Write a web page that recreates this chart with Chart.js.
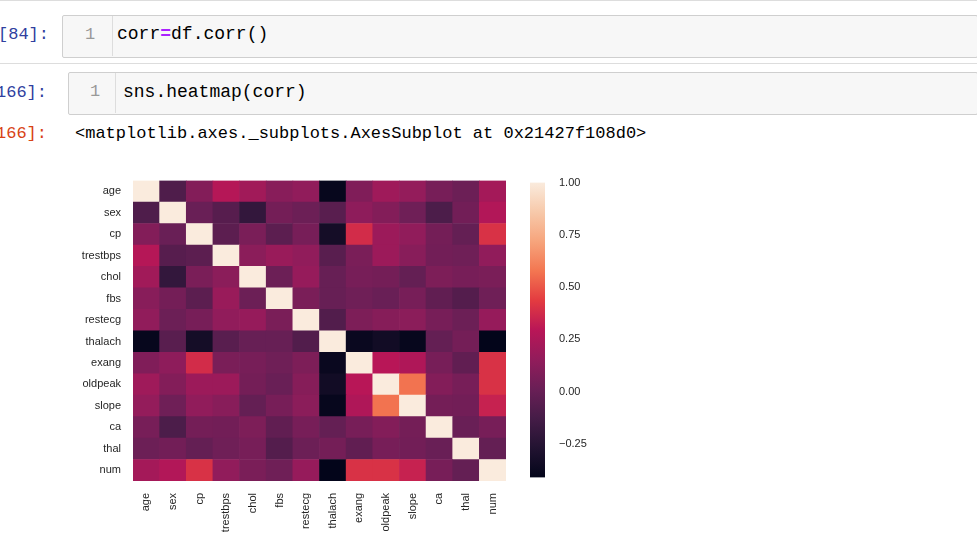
<!DOCTYPE html>
<html><head><meta charset="utf-8">
<script src="https://cdn.jsdelivr.net/npm/chart.js@4"></script>
<style>
body{margin:0;width:977px;height:549px;background:#fff;position:relative;overflow:hidden;font-family:"Liberation Mono","DejaVu Sans Mono",monospace;}
.box{position:absolute;background:#f7f7f7;border:1px solid #cfcfcf;border-radius:2px;}
.ln{position:absolute;color:#999;font-size:17px;}
.code{position:absolute;font-size:18px;color:#000;}
.p{position:absolute;font-size:17px;}
</style></head><body>
<div style="position:absolute;left:0;top:0;width:977px;height:1px;background:#ddd"></div>
<div class="p" style="left:-2px;top:25px;color:#303f9f">[84]:</div>
<div class="box" style="left:62px;top:15px;width:914px;height:41px"></div>
<div style="position:absolute;left:112px;top:16px;width:1px;height:40px;background:#ddd"></div>
<div class="ln" style="left:85px;top:25px">1</div>
<div class="code" style="left:117px;top:24px">corr<span style="color:#aa22ff;font-weight:bold">=</span>df.corr()</div>
<div style="position:absolute;left:0;top:63px;width:977px;height:1px;background:#ddd"></div>
<div class="p" style="left:-4px;top:83px;color:#303f9f">166]:</div>
<div class="box" style="left:68px;top:72px;width:908px;height:41px"></div>
<div style="position:absolute;left:115px;top:73px;width:1px;height:40px;background:#ddd"></div>
<div class="ln" style="left:90px;top:82px">1</div>
<div class="code" style="left:123px;top:82px">sns.heatmap(corr)</div>
<div class="p" style="left:-4px;top:124px;color:#d84315">166]:</div>
<div class="code" style="left:75px;top:124px;font-size:17px">&lt;matplotlib.axes._subplots.AxesSubplot at 0x21427f108d0&gt;</div>
<div style="position:absolute;left:60px;top:170px;width:460px;height:380px"><canvas id="c"></canvas></div>
<div style="position:absolute;left:520px;top:170px;width:80px;height:320px"><canvas id="cb"></canvas></div>
<script>
const labels=["age","sex","cp","trestbps","chol","fbs","restecg","thalach","exang","oldpeak","slope","ca","thal","num"];
const age=[1,-0.09,0.10,0.28,0.21,0.12,0.15,-0.39,0.09,0.20,0.16,0.06,0.02,0.22];
const sex=[-0.09,1,0.01,-0.06,-0.20,0.05,0.02,-0.05,0.14,0.10,0.03,-0.10,0.04,0.27];
const cp=[0.10,0.01,1,-0.04,0.07,-0.04,0.06,-0.33,0.38,0.19,0.15,0.05,-0.01,0.40];
const trestbps=[0.28,-0.06,-0.04,1,0.13,0.18,0.15,-0.05,0.07,0.19,0.12,0.04,0.03,0.15];
const chol=[0.21,-0.20,0.07,0.13,1,0.02,0.17,0.00,0.06,0.05,-0.01,0.08,0.06,0.07];
const fbs=[0.12,0.05,-0.04,0.18,0.02,1,0.07,0.00,0.03,0.01,0.06,-0.02,-0.07,0.03];
const restecg=[0.15,0.02,0.06,0.15,0.17,0.07,1,-0.08,0.08,0.11,0.13,0.06,0.02,0.17];
const thalach=[-0.39,-0.05,-0.33,-0.05,0.00,0.00,-0.08,1,-0.38,-0.34,-0.39,-0.01,0.05,-0.41];
const exang=[0.09,0.14,0.38,0.07,0.06,0.03,0.08,-0.38,1,0.29,0.26,0.06,-0.02,0.40];
const oldpeak=[0.20,0.10,0.19,0.19,0.05,0.01,0.11,-0.34,0.29,1,0.57,0.10,0.06,0.40];
const slope=[0.16,0.03,0.15,0.12,-0.01,0.06,0.13,-0.39,0.26,0.57,1,0.05,0.04,0.34];
const ca=[0.06,-0.10,0.05,0.04,0.08,-0.02,0.06,-0.01,0.06,0.10,0.05,1,0.01,0.06];
const thal=[0.02,0.04,-0.01,0.03,0.06,-0.07,0.02,0.05,-0.02,0.06,0.04,0.01,1,-0.01];
const num=[0.22,0.27,0.40,0.15,0.07,0.03,0.17,-0.41,0.40,0.40,0.34,0.06,-0.01,1];
const rows=[age,sex,cp,trestbps,chol,fbs,restecg,thalach,exang,oldpeak,slope,ca,thal,num];
const cbTicks=[-0.25,0,0.25,0.5,0.75,1.0];
const vmin=-0.41, vmax=1.0;
const stops=[[0,"#03051a"],[0.1,"#221331"],[0.2,"#451c47"],[0.3,"#6a1f56"],[0.4,"#921c5b"],[0.5,"#b91657"],[0.6,"#e33b40"],[0.7,"#f37651"],[0.8,"#f6a47c"],[0.9,"#f7c9aa"],[1,"#faebdd"]];
function hx(h){return [1,3,5].map(i=>parseInt(h.substr(i,2),16));}
function cmap(v){let t=Math.max(0,Math.min(1,(v-vmin)/(vmax-vmin)));
 for(let i=1;i<stops.length;i++){if(t<=stops[i][0]){const a=hx(stops[i-1][1]),b=hx(stops[i][1]);const f=(t-stops[i-1][0])/(stops[i][0]-stops[i-1][0]);
 return "rgb("+a.map((x,k)=>Math.round(x+(b[k]-x)*f)).join(",")+")";}}return stops[stops.length-1][1];}
const font={family:"Liberation Sans, Arial",size:11};
const datasets=rows.slice().reverse().map(r=>({data:r.map(()=>1),backgroundColor:r.map(cmap),borderWidth:0,barPercentage:1,categoryPercentage:1}));
new Chart(document.getElementById('c'),{type:'bar',data:{labels:labels,datasets:datasets},
options:{responsive:true,maintainAspectRatio:false,animation:false,events:[],
layout:{padding:{top:8,right:14,left:0,bottom:0}},
plugins:{legend:{display:false},tooltip:{enabled:false}},
scales:{x:{stacked:true,grid:{display:false},border:{display:false},ticks:{color:"#262626",font:font,minRotation:90,maxRotation:90,autoSkip:false,padding:4},afterFit:s=>{s.height=69;}},
y:{stacked:true,min:0,max:14,grid:{display:false},border:{display:false},
afterBuildTicks:s=>{s.ticks=labels.map((l,i)=>({value:13.5-i}));},
ticks:{color:"#262626",font:font,autoSkip:false,padding:4,callback:(v,i)=>labels[i]},afterFit:s=>{s.width=73;}}}}});
new Chart(document.getElementById('cb'),{type:'bar',data:{labels:[''],datasets:[{data:[[vmin,vmax]],borderWidth:0,barPercentage:1,categoryPercentage:1,
backgroundColor:(ctx)=>{const ca=ctx.chart.chartArea;if(!ca)return '#000';const g=ctx.chart.ctx.createLinearGradient(0,ca.bottom,0,ca.top);stops.forEach(s=>g.addColorStop(s[0],s[1]));return g;}}]},
options:{responsive:true,maintainAspectRatio:false,animation:false,events:[],
layout:{padding:{top:8,bottom:9,left:10,right:0}},
plugins:{legend:{display:false},tooltip:{enabled:false}},
scales:{x:{display:false},y:{position:'right',min:vmin,max:vmax,grid:{display:false},border:{display:false},
afterBuildTicks:s=>{s.ticks=cbTicks.map(v=>({value:v}));},
ticks:{color:"#262626",font:font,padding:6,callback:v=>v.toFixed(2).replace('-','\u2212')},afterFit:s=>{s.width=55;}}}}});
</script></body></html>
